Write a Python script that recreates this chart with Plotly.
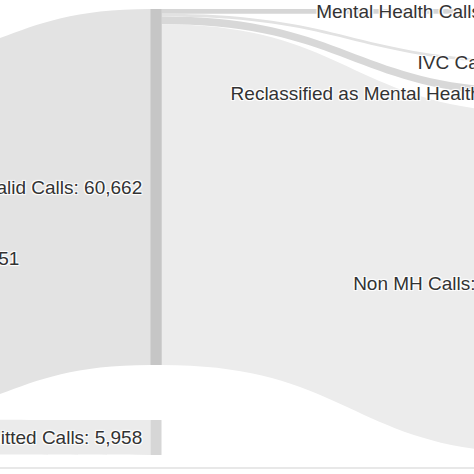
import plotly.graph_objects as go

# ---- data ----
total_name, total_count = "Total Calls", 66651
valid_name, valid_count = "Valid Calls", 60662
omit_name, omit_count = "Omitted Calls", 5958

out_names = ["Mental Health Calls", "IVC Calls", "Reclassified as Mental Health", "Non MH Calls"]
out_counts = [2619, 463, 1344, 58043]          # numbers shown in the labels
out_link_values = [812, 463, 1344, 58043]      # flows leaving Valid Calls

# ---- geometry (the picture is a crop of a larger sankey) ----
W = H = 474
VALID_PX = 356.0                              # drawn height of the Valid Calls node
ky = VALID_PX / valid_count
pad_b = (H - VALID_PX) / 3                    # 4 nodes in the right column
pad_a = H - (valid_count + omit_count) * ky   # 2 nodes in the middle column

def nx(px):
    return px / W

fmt = lambda n, c: f"{n}: {c:,}"
GAP = "\u00a0"   # a little extra space between a left-side label and its node
text_font = dict(family="Liberation Sans, Arial, sans-serif", size=19, color="#333333")

# stage 1: Total -> Valid / Omitted
stage1 = go.Sankey(
    arrangement="fixed",
    node=dict(
        label=[fmt(total_name, total_count),
               fmt(valid_name, valid_count) + GAP,
               fmt(omit_name, omit_count) + GAP],
        x=[nx(-145.5), nx(156.0), nx(156.0)],
        y=[0.546, 0.3945, 0.923],
        pad=pad_a,
        thickness=11,
        color=["#c8c8c8", "#c6c6c6", "#d6d6d6"],
        line=dict(width=0),
    ),
    link=dict(
        source=[0, 0],
        target=[1, 2],
        value=[valid_count, omit_count],
        color=["#e3e3e3", "#ebebeb"],
    ),
    textfont=text_font,
    hoverinfo="none",
)

# stage 2: Valid -> outcomes
stage2 = go.Sankey(
    arrangement="fixed",
    node=dict(
        label=[""] + [fmt(n, c) for n, c in zip(out_names, out_counts)],
        x=[nx(156.0)] + [nx(547.5)] * 4,
        y=[0.3945, 0.0243, 0.131, 0.196, 0.597],
        pad=pad_b,
        thickness=11,
        color=["#c6c6c6", "#c8c8c8", "#c8c8c8", "#c8c8c8", "#c8c8c8"],
        line=dict(width=0),
    ),
    link=dict(
        source=[0, 0, 0, 0],
        target=[1, 2, 3, 4],
        value=out_link_values,
        color=["#d6d6d6", "#e2e2e2", "#d8d8d8", "#ececec"],
    ),
    textfont=text_font,
    hoverinfo="none",
)

fig = go.Figure([stage2, stage1])

fig.add_shape(type="line", xref="paper", yref="paper", x0=0, x1=1,
              y0=1 - 468 / H, y1=1 - 468 / H,
              line=dict(color="#e8e8e8", width=2))

fig.update_layout(
    width=W, height=H,
    margin=dict(l=0, r=0, t=0, b=0),
    paper_bgcolor="white",
    plot_bgcolor="white",
)

fig.write_html("out.html")
